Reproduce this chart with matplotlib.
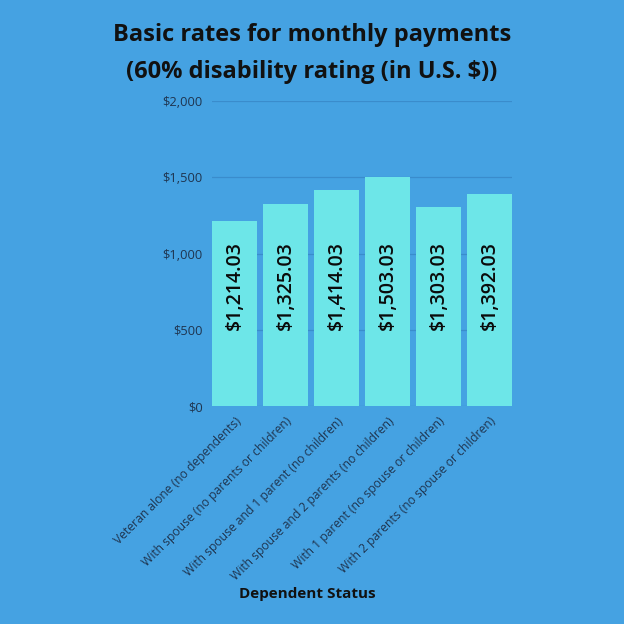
import matplotlib
matplotlib.use('Agg')
from matplotlib import pyplot as plt
from matplotlib.ticker import FuncFormatter

categories = [
    'Veteran alone (no dependents)',
    'With spouse (no parents or children)',
    'With spouse and 1 parent (no children)',
    'With spouse and 2 parents (no children)',
    'With 1 parent (no spouse or children)',
    'With 2 parents (no spouse or children)',
]
values = [1214.03, 1325.03, 1414.03, 1503.03, 1303.03, 1392.03]
y_ticks = [0, 500, 1000, 1500, 2000]

BG = '#45a2e2'
BAR = '#6de6e8'
GRID = '#3a8ccc'
TEXT = '#1f3550'

plt.rcParams['font.family'] = ['Open Sans', 'DejaVu Sans']

fig = plt.figure(figsize=(6.24, 6.24), dpi=100, facecolor=BG)
ax = fig.add_axes([0.3397, 0.349, 0.4808, 0.489])
ax.set_facecolor(BG)
ax.set_axisbelow(True)

x = list(range(len(categories)))
ax.bar(x, values, width=0.884, color=BAR, zorder=2)
for xi, v in zip(x, values):
    ax.text(xi, 500, '${:,.2f}'.format(v), rotation=90, ha='center', va='bottom',
            fontsize=14, fontweight='semibold', color='#0a0a0a', zorder=3)

ax.set_xlim(-0.442, len(categories) - 0.558)
ax.set_ylim(0, 2000)
ax.set_yticks(y_ticks)
ax.yaxis.set_major_formatter(FuncFormatter(lambda v, p: '${:,.0f}'.format(v)))
ax.grid(axis='y', color=GRID, linewidth=0.9)
ax.grid(axis='x', visible=False)
ax.set_xticks(x)
ax.set_xticklabels(categories, rotation=45, ha='right', rotation_mode='anchor',
                   fontsize=8.7, color=TEXT)
ax.tick_params(axis='y', labelsize=9.3, labelcolor=TEXT, length=0, pad=6.5)
ax.tick_params(axis='x', length=0, pad=6)
for s in ax.spines.values():
    s.set_visible(False)

ax.set_xlabel('Dependent Status', fontsize=11, fontweight='bold', color='#111111')
ax.xaxis.set_label_coords(0.317, -0.594)
fig.text(0.5, 0.914, 'Basic rates for monthly payments\n(60% disability rating (in U.S. $))',
         ha='center', va='center', fontsize=17, fontweight='bold', color='#111111',
         linespacing=1.72)

fig.savefig('out.png', dpi=100, facecolor=BG)
